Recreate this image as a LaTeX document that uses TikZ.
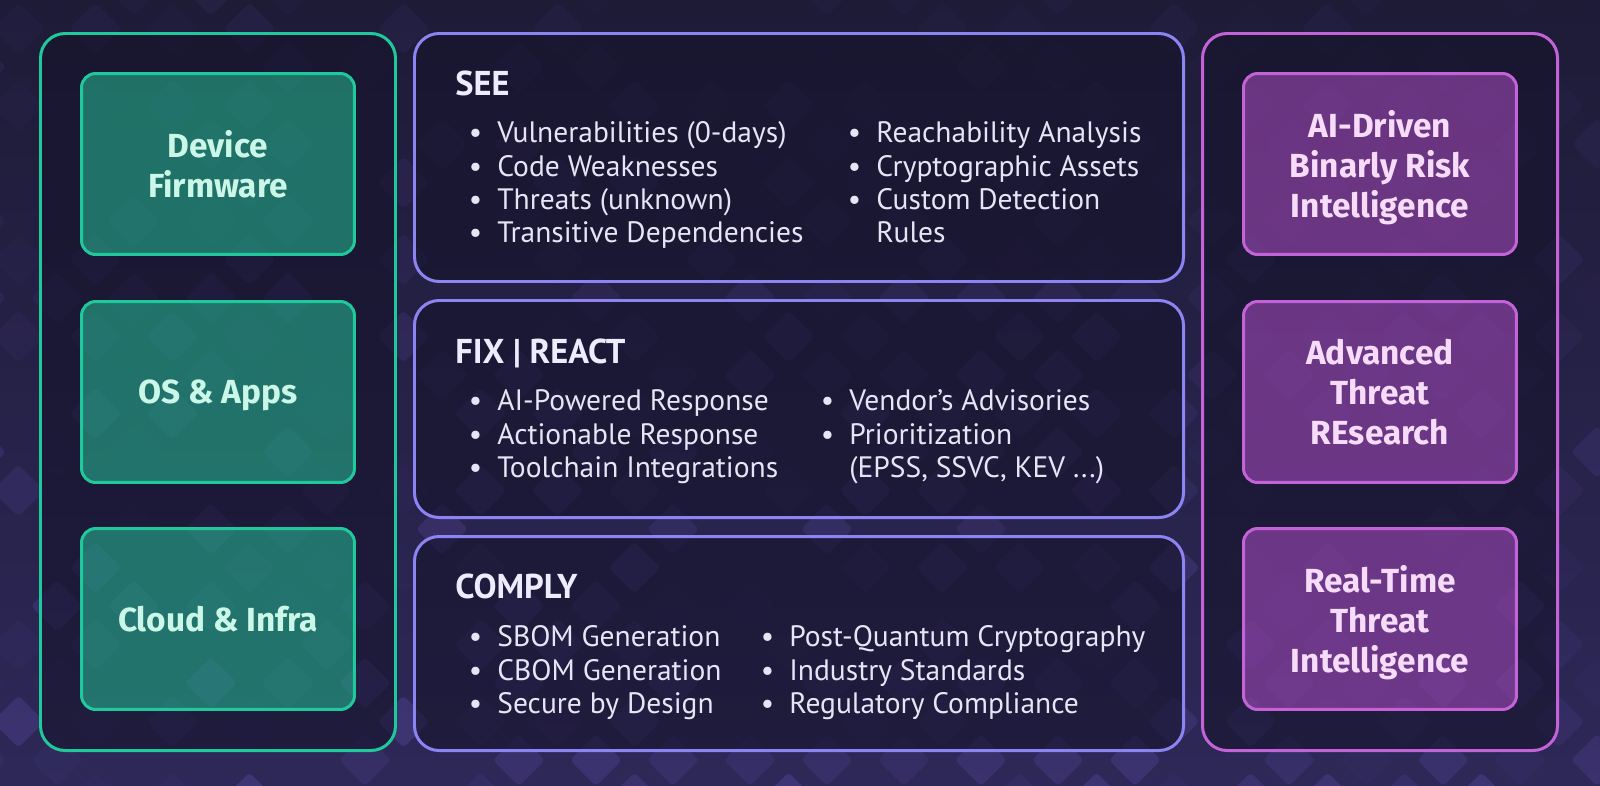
\documentclass[tikz,border=0pt]{standalone}
\usepackage{fontspec}
\setmainfont{PT Sans}
\newfontfamily\boxfont{Fira Sans}

\definecolor{bgtop}{HTML}{1E1B37}
\definecolor{bgbot}{HTML}{2E2858}
\definecolor{panelfill}{HTML}{15132B}
\definecolor{diamondcol}{HTML}{6A58C0}
\definecolor{gline}{HTML}{1FC99B}
\definecolor{gboxfill}{HTML}{209579}
\definecolor{gtext}{HTML}{CAF7E7}
\definecolor{vline}{HTML}{8C84F2}
\definecolor{headtext}{HTML}{EEEBFF}
\definecolor{itemtext}{HTML}{E6E4F5}
\definecolor{pline}{HTML}{C462D8}
\definecolor{pboxfill}{HTML}{893F9E}
\definecolor{ptext}{HTML}{F7DCF9}

\tikzset{
  border/.style={line width=1.7pt, rounded corners=14pt},
  vpanel/.style={border, draw=vline, fill=panelfill, fill opacity=0.6},
  sidebox/.style={line width=1.7pt, rounded corners=8pt, fill opacity=0.7,
    text opacity=1, minimum width=5.46cm, minimum height=3.62cm, inner sep=0pt,
    text depth=0pt, align=center,
    font=\boxfont\bfseries\fontsize{19}{22.7}\selectfont},
  gbox/.style={sidebox, draw=gline, fill=gboxfill, text=gtext},
  pbox/.style={sidebox, draw=pline, fill=pboxfill, text=ptext},
  heading/.style={anchor=base west, inner sep=0pt, text=headtext,
    font=\bfseries\fontsize{19.6}{22}\selectfont},
  itemtxt/.style={anchor=base west, inner sep=0pt, text=itemtext,
    font=\fontsize{16.8}{20}\selectfont},
  item/.style={itemtxt, execute at begin node={\llap{\textbullet\hspace{8.6pt}}}},
}

\begin{document}
\begin{tikzpicture}[x=0.02cm, y=-0.02cm]
  \useasboundingbox (0,0) rectangle (1600,785);
  \shade[top color=bgtop, bottom color=bgbot] (0,0) rectangle (1600,785);

  % diamond pattern
  \pgfmathsetseed{17}
  \foreach \j in {0,...,21} {
    \foreach \i in {0,...,21} {
      \pgfmathsetmacro\cx{77*\i + 38.5*mod(\j,2) - 20}
      \pgfmathsetmacro\cy{38.5*\j - 10}
      \pgfmathsetmacro\op{max(0,rnd-0.3)/0.7*0.32*(0.12+0.68*\cy/785+0.2*(1-\cx/1600))}
      \fill[diamondcol, opacity=\op, rounded corners=2.3pt]
        (\cx,\cy-26) -- (\cx+26,\cy) -- (\cx,\cy+26) -- (\cx-26,\cy) -- cycle;
    }
  }

  % outer side panels, open where the boxes sit
  \fill[panelfill, fill opacity=0.6, even odd rule]
    [rounded corners=14pt] (40.5,33.5) rectangle (395.5,750.5)
    [rounded corners=8pt] (81.5,73.5) rectangle (354.5,254.5)
    (81.5,301.5) rectangle (354.5,482.5) (81.5,528.5) rectangle (354.5,709.5);
  \fill[panelfill, fill opacity=0.6, even odd rule]
    [rounded corners=14pt] (1202.5,33.5) rectangle (1557.5,750.5)
    [rounded corners=8pt] (1243.5,73.5) rectangle (1516.5,254.5)
    (1243.5,301.5) rectangle (1516.5,482.5) (1243.5,528.5) rectangle (1516.5,709.5);
  \draw[border, gline] (40.5,33.5) rectangle (395.5,750.5);
  \draw[border, pline] (1202.5,33.5) rectangle (1557.5,750.5);

  % left boxes
  \node[gbox] (fw)    at (218,164) {Device\\Firmware};
  \node[gbox] (os)    at (218,392) {OS \& Apps};
  \node[gbox] (cloud) at (218,619) {Cloud \& Infra};

  % right boxes
  \node[pbox] (risk)  at (1380,164) {AI-Driven\\Binarly Risk\\Intelligence};
  \node[pbox] (rsrch) at (1380,392) {Advanced\\Threat\\REsearch};
  \node[pbox] (intel) at (1380,619) {Real-Time\\Threat\\Intelligence};

  % SEE
  \draw[vpanel] (414.5,33.5) rectangle (1183.5,281.5);
  \node[heading] (see) at (455,95) {SEE};
  \foreach \t [count=\k from 0] in {Vulnerabilities (0-days), Code Weaknesses,
      Threats (unknown), Transitive Dependencies}
    \node[item] (see-a\k) at (497,142.7+33.3*\k) {\t};
  \foreach \t [count=\k from 0] in {Reachability Analysis, Cryptographic Assets,
      Custom Detection}
    \node[item] (see-b\k) at (876,142.7+33.3*\k) {\t};
  \node[itemtxt] (see-b3) at (876,242.6) {Rules};

  % FIX | REACT
  \draw[vpanel] (414.5,300.5) rectangle (1183.5,517.5);
  \node[heading] (fix) at (455,363) {FIX | REACT};
  \foreach \t [count=\k from 0] in {AI-Powered Response, Actionable Response,
      Toolchain Integrations}
    \node[item] (fix-a\k) at (497,410.7+33.3*\k) {\t};
  \foreach \t [count=\k from 0] in {Vendor's Advisories, Prioritization}
    \node[item] (fix-b\k) at (849,410.7+33.3*\k) {\t};
  \node[itemtxt] (fix-b2) at (849,477.3) {(EPSS, SSVC, KEV ...)};

  % COMPLY
  \draw[vpanel] (414.5,536.5) rectangle (1183.5,750.5);
  \node[heading] (comply) at (455,598) {COMPLY};
  \foreach \t [count=\k from 0] in {SBOM Generation, CBOM Generation,
      Secure by Design}
    \node[item] (comply-a\k) at (497,646.7+33.3*\k) {\t};
  \foreach \t [count=\k from 0] in {Post-Quantum Cryptography, Industry Standards,
      Regulatory Compliance}
    \node[item] (comply-b\k) at (789,646.7+33.3*\k) {\t};
\end{tikzpicture}
\end{document}
